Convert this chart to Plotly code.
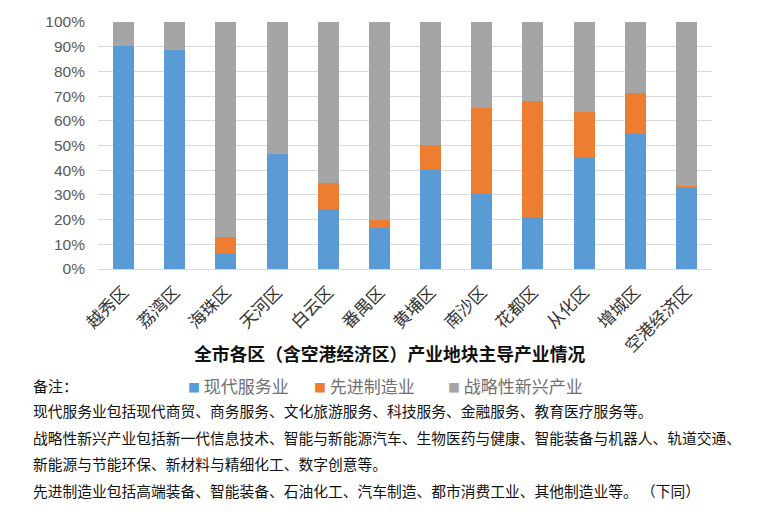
import plotly.graph_objects as go

districts = ["越秀区", "荔湾区", "海珠区", "天河区", "白云区", "番禺区",
             "黄埔区", "南沙区", "花都区", "从化区", "增城区", "空港经济区"]
modern_service = [90.3, 88.5, 5.9, 46.6, 24.4, 16.6, 40.1, 30.5, 21.1, 45.5, 54.8, 33.1]
advanced_mfg = [0.0, 0.0, 7.2, 0.0, 10.4, 3.1, 10.1, 34.8, 47.1, 18.2, 16.5, 0.6]
strategic_new = [9.7, 11.5, 86.9, 53.4, 65.2, 80.3, 49.8, 34.7, 31.8, 36.3, 28.7, 66.3]
series_names = ["现代服务业", "先进制造业", "战略性新兴产业"]
series_colors = ["#5b9bd5", "#ed7d31", "#a5a5a5"]

title_text = "全市各区（含空港经济区）产业地块主导产业情况"
note_label = "备注："
note_lines = [
    "现代服务业包括现代商贸、商务服务、文化旅游服务、科技服务、金融服务、教育医疗服务等。",
    "战略性新兴产业包括新一代信息技术、智能与新能源汽车、生物医药与健康、智能装备与机器人、轨道交通、",
    "新能源与节能环保、新材料与精细化工、数字创意等。",
    "先进制造业包括高端装备、智能装备、石油化工、汽车制造、都市消费工业、其他制造业等。 （下同）",
]

W, H = 774, 520
L, R, T, B = 98, 712, 22, 269
CJK = "Noto Sans CJK SC, Noto Sans, sans-serif"


def px(x):
    return (x - L) / (R - L)


def py(y):
    return (B - y) / (B - T)


fig = go.Figure()
for name, vals, col in zip(series_names, [modern_service, advanced_mfg, strategic_new], series_colors):
    fig.add_trace(go.Bar(x=districts, y=vals, name=name, marker=dict(color=col, line=dict(width=0)),
                         showlegend=False))

annotations = []
annotations.append(dict(text=f"<b>{title_text}</b>", x=px(389), y=py(353), xref="paper", yref="paper",
                        xanchor="center", yanchor="middle", showarrow=False,
                        font=dict(family=CJK, size=17.8, color="#111111")))
annotations.append(dict(text=note_label, x=px(31), y=py(385), xref="paper", yref="paper",
                        xanchor="left", yanchor="middle", showarrow=False,
                        font=dict(family=CJK, size=15, color="#111111")))
legend_x = [186, 312, 446]
for lx, name, col in zip(legend_x, series_names, series_colors):
    annotations.append(dict(
        text=f"<span style='color:{col};font-size:12px'>■</span> {name}",
        x=px(lx), y=py(385), xref="paper", yref="paper", xanchor="left", yanchor="middle",
        showarrow=False, font=dict(family=CJK, size=17, color="#707070")))
line_y = [411, 437, 463, 490]
for ly, txt in zip(line_y, note_lines):
    annotations.append(dict(text=txt, x=px(31), y=py(ly), xref="paper", yref="paper",
                            xanchor="left", yanchor="middle", showarrow=False,
                            font=dict(family=CJK, size=14.75, color="#111111")))

fig.update_layout(
    width=W, height=H,
    margin=dict(l=L, r=W - R, t=T, b=H - B, autoexpand=False),
    paper_bgcolor="white", plot_bgcolor="white",
    barmode="stack", bargap=0.59,
    xaxis=dict(tickangle=-45, tickfont=dict(family=CJK, size=17, color="#333333"),
               showgrid=False, showline=False, ticks="", ticklabelstandoff=9),
    yaxis=dict(range=[0, 100], dtick=10, ticksuffix="%", showgrid=True, gridcolor="#d9d9d9",
               gridwidth=1, zeroline=True, zerolinecolor="#d9d9d9", zerolinewidth=1,
               tickfont=dict(family="Liberation Sans, Arial, sans-serif", size=15.5, color="#595959"),
               ticklabelstandoff=12, fixedrange=True),
    annotations=annotations,
)

fig.write_html("out.html")
